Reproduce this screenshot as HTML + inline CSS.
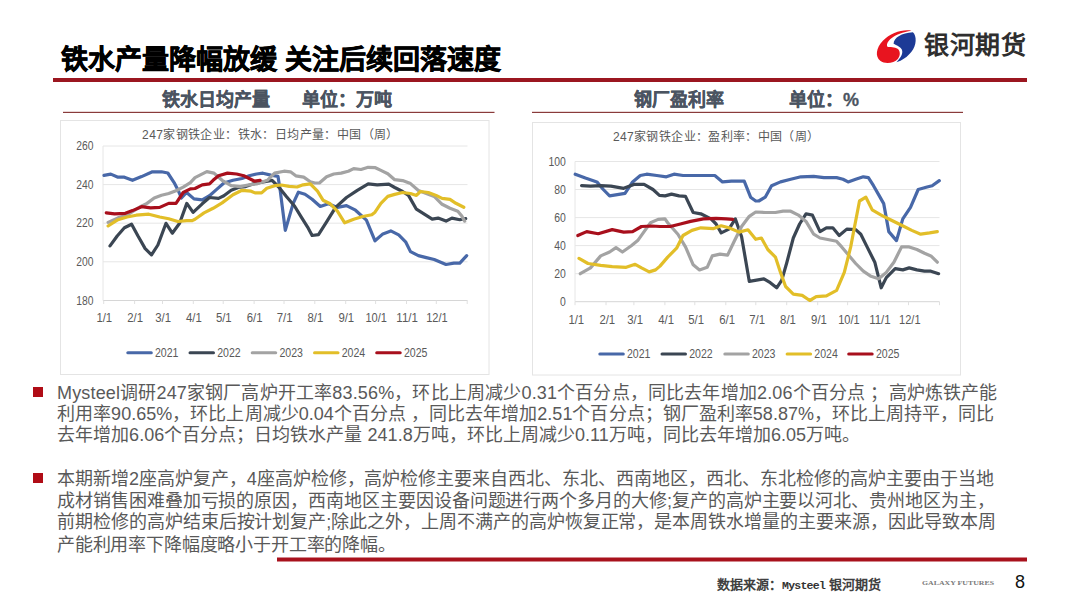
<!DOCTYPE html>
<html lang="zh-CN"><head><meta charset="utf-8">
<style>
html,body{margin:0;padding:0;background:#fff;}
body{width:1080px;height:608px;position:relative;overflow:hidden;font-family:"Liberation Sans",sans-serif;}
svg{position:absolute;left:0;top:0;}
.ax{font-family:"Liberation Sans",sans-serif;font-size:12px;fill:#595959;}
.ct{font-family:"Liberation Sans",sans-serif;font-size:12px;fill:#595959;}
.t{position:absolute;white-space:nowrap;}
.title{left:61px;top:38px;font-size:27px;font-weight:bold;color:#000;-webkit-text-stroke:0.6px #000;}
.logo{left:924px;top:25px;font-size:25px;font-weight:bold;color:#2e2e2e;letter-spacing:0.6px;}
.hd{font-size:18px;font-weight:bold;color:#4b5461;-webkit-text-stroke:0.3px #4b5461;}
.p{position:absolute;left:57px;font-size:18px;line-height:21.3px;color:#595959;white-space:nowrap;}
.foot{left:717px;top:574px;font-size:13px;font-weight:bold;color:#404040;}
.mono{font-family:"Liberation Mono",monospace;font-size:11.5px;font-weight:bold;letter-spacing:-0.75px;color:#333;}
.gf{left:922px;top:578px;font-size:8px;color:#666;font-family:"Liberation Serif",serif;letter-spacing:-0.6px;}
.pg{left:1015px;top:572px;font-size:18px;color:#111;}
</style></head><body>
<svg width="1080" height="608" viewBox="0 0 1080 608">
<rect x="60.5" y="120.5" width="428.5" height="254" fill="#fff" stroke="#e4e4e4" stroke-width="1"/>
<rect x="532.5" y="122.5" width="428" height="252.5" fill="#fff" stroke="#e4e4e4" stroke-width="1"/>
<line x1="103" y1="146" x2="467.5" y2="146" stroke="#e6e6e6" stroke-width="1"/>
<line x1="103" y1="184.6" x2="467.5" y2="184.6" stroke="#e6e6e6" stroke-width="1"/>
<line x1="103" y1="223.2" x2="467.5" y2="223.2" stroke="#e6e6e6" stroke-width="1"/>
<line x1="103" y1="261.8" x2="467.5" y2="261.8" stroke="#e6e6e6" stroke-width="1"/>
<line x1="103" y1="300.5" x2="467.5" y2="300.5" stroke="#d6d6d6" stroke-width="1"/>
<line x1="103" y1="146" x2="103" y2="300.5" stroke="#e6e6e6" stroke-width="1"/>
<line x1="103.7" y1="300.5" x2="103.7" y2="304" stroke="#e0e0e0" stroke-width="1"/>
<line x1="134.6" y1="300.5" x2="134.6" y2="304" stroke="#e0e0e0" stroke-width="1"/>
<line x1="162.5" y1="300.5" x2="162.5" y2="304" stroke="#e0e0e0" stroke-width="1"/>
<line x1="193.3" y1="300.5" x2="193.3" y2="304" stroke="#e0e0e0" stroke-width="1"/>
<line x1="223.2" y1="300.5" x2="223.2" y2="304" stroke="#e0e0e0" stroke-width="1"/>
<line x1="254.1" y1="300.5" x2="254.1" y2="304" stroke="#e0e0e0" stroke-width="1"/>
<line x1="284.0" y1="300.5" x2="284.0" y2="304" stroke="#e0e0e0" stroke-width="1"/>
<line x1="314.8" y1="300.5" x2="314.8" y2="304" stroke="#e0e0e0" stroke-width="1"/>
<line x1="345.7" y1="300.5" x2="345.7" y2="304" stroke="#e0e0e0" stroke-width="1"/>
<line x1="375.6" y1="300.5" x2="375.6" y2="304" stroke="#e0e0e0" stroke-width="1"/>
<line x1="406.5" y1="300.5" x2="406.5" y2="304" stroke="#e0e0e0" stroke-width="1"/>
<line x1="436.3" y1="300.5" x2="436.3" y2="304" stroke="#e0e0e0" stroke-width="1"/>
<line x1="467.2" y1="300.5" x2="467.2" y2="304" stroke="#e0e0e0" stroke-width="1"/>
<text x="93.5" y="150.0" text-anchor="end" class="ax" textLength="17.2" lengthAdjust="spacingAndGlyphs">260</text>
<text x="93.5" y="188.6" text-anchor="end" class="ax" textLength="17.2" lengthAdjust="spacingAndGlyphs">240</text>
<text x="93.5" y="227.2" text-anchor="end" class="ax" textLength="17.2" lengthAdjust="spacingAndGlyphs">220</text>
<text x="93.5" y="265.8" text-anchor="end" class="ax" textLength="17.2" lengthAdjust="spacingAndGlyphs">200</text>
<text x="93.5" y="304.5" text-anchor="end" class="ax" textLength="17.2" lengthAdjust="spacingAndGlyphs">180</text>
<text x="104.3" y="322" text-anchor="middle" class="ax" textLength="15.8" lengthAdjust="spacingAndGlyphs">1/1</text>
<text x="135.2" y="322" text-anchor="middle" class="ax" textLength="15.8" lengthAdjust="spacingAndGlyphs">2/1</text>
<text x="163.1" y="322" text-anchor="middle" class="ax" textLength="15.8" lengthAdjust="spacingAndGlyphs">3/1</text>
<text x="193.9" y="322" text-anchor="middle" class="ax" textLength="15.8" lengthAdjust="spacingAndGlyphs">4/1</text>
<text x="223.8" y="322" text-anchor="middle" class="ax" textLength="15.8" lengthAdjust="spacingAndGlyphs">5/1</text>
<text x="254.7" y="322" text-anchor="middle" class="ax" textLength="15.8" lengthAdjust="spacingAndGlyphs">6/1</text>
<text x="284.6" y="322" text-anchor="middle" class="ax" textLength="15.8" lengthAdjust="spacingAndGlyphs">7/1</text>
<text x="315.4" y="322" text-anchor="middle" class="ax" textLength="15.8" lengthAdjust="spacingAndGlyphs">8/1</text>
<text x="346.3" y="322" text-anchor="middle" class="ax" textLength="15.8" lengthAdjust="spacingAndGlyphs">9/1</text>
<text x="376.2" y="322" text-anchor="middle" class="ax" textLength="21.5" lengthAdjust="spacingAndGlyphs">10/1</text>
<text x="407.1" y="322" text-anchor="middle" class="ax" textLength="21.5" lengthAdjust="spacingAndGlyphs">11/1</text>
<text x="436.9" y="322" text-anchor="middle" class="ax" textLength="21.5" lengthAdjust="spacingAndGlyphs">12/1</text>
<text x="270.5" y="139" text-anchor="middle" class="ct" style="letter-spacing:0.4px">247家钢铁企业：铁水：日均产量：中国（周）</text>
<line x1="127.8" y1="352.8" x2="151.3" y2="352.8" stroke="#4868a8" stroke-width="3" stroke-linecap="round"/>
<text x="155.0" y="357" class="ax" textLength="23.5" lengthAdjust="spacingAndGlyphs">2021</text>
<line x1="190.0" y1="352.8" x2="213.5" y2="352.8" stroke="#3b4653" stroke-width="3" stroke-linecap="round"/>
<text x="217.2" y="357" class="ax" textLength="23.5" lengthAdjust="spacingAndGlyphs">2022</text>
<line x1="252.2" y1="352.8" x2="275.7" y2="352.8" stroke="#a3a3a3" stroke-width="3" stroke-linecap="round"/>
<text x="279.4" y="357" class="ax" textLength="23.5" lengthAdjust="spacingAndGlyphs">2023</text>
<line x1="314.5" y1="352.8" x2="338" y2="352.8" stroke="#e2be28" stroke-width="3" stroke-linecap="round"/>
<text x="341.7" y="357" class="ax" textLength="23.5" lengthAdjust="spacingAndGlyphs">2024</text>
<line x1="376.7" y1="352.8" x2="400.2" y2="352.8" stroke="#a80f1c" stroke-width="3" stroke-linecap="round"/>
<text x="403.9" y="357" class="ax" textLength="23.5" lengthAdjust="spacingAndGlyphs">2025</text>
<polyline points="104.0,175.4 110.8,174.1 118.0,177.2 124.4,177.2 132.5,180.3 141.6,176.6 152.4,171.8 161.5,171.8 167.8,173.0 174.1,182.6 178.7,191.6 181.4,198.0 186.6,192.5 194.0,198.9 202.2,199.8 209.5,195.7 216.7,189.4 223.9,183.0 233.0,180.3 242.0,178.5 249.2,175.8 256.5,174.0 262.9,173.2 270.8,175.1 278.0,176.4 280.0,188.9 285.3,230.4 293.2,203.4 298.4,192.2 305.0,194.2 312.1,199.3 320.3,206.5 328.4,203.8 337.4,207.4 346.5,205.6 355.5,210.2 366.4,220.1 375.0,240.8 382.9,233.9 390.8,230.9 398.7,234.9 405.6,241.8 410.5,251.6 418.4,255.6 426.3,257.6 434.2,259.5 446.0,264.5 453.9,263.1 459.8,263.1 466.7,255.6" fill="none" stroke="#4868a8" stroke-width="3.2" stroke-linejoin="round" stroke-linecap="round"/>
<polyline points="110.0,245.9 117.2,236.0 124.4,227.8 131.6,224.2 138.0,236.0 145.2,248.6 151.5,254.9 157.9,245.0 166.0,223.3 172.3,233.2 179.6,223.3 186.8,203.4 193.1,212.4 202.2,203.8 209.5,197.5 218.5,198.4 223.9,195.7 231.2,190.3 238.4,187.5 245.6,186.6 252.9,183.9 261.9,182.1 272.1,180.4 278.7,187.0 286.6,196.8 294.5,206.0 301.0,216.6 307.6,227.1 312.1,235.5 318.5,234.6 326.6,221.9 335.6,207.4 346.5,197.5 357.3,190.3 368.2,183.9 377.2,184.8 388.8,184.2 394.7,187.5 402.6,191.5 408.5,195.4 416.4,209.2 424.3,214.2 432.2,219.1 438.1,218.1 446.0,221.1 451.9,218.1 459.8,219.7 465.7,218.5" fill="none" stroke="#3b4653" stroke-width="3.2" stroke-linejoin="round" stroke-linecap="round"/>
<polyline points="108.1,222.4 118.0,217.9 127.0,215.2 139.8,207.0 147.0,203.4 154.2,198.0 161.5,195.3 168.7,193.5 176.0,190.7 183.2,187.1 190.4,182.6 195.0,177.6 200.4,174.9 206.8,171.6 214.0,173.1 222.1,180.3 231.2,185.7 240.2,186.6 249.2,184.8 256.5,183.9 267.3,180.3 274.6,173.1 284.0,171.2 290.5,171.8 295.8,175.8 303.7,177.1 310.3,181.7 314.8,183.0 319.4,183.0 326.6,176.7 333.8,174.0 341.1,173.1 348.3,171.3 353.7,168.6 361.0,169.5 368.2,167.3 375.4,167.7 380.9,170.4 387.8,173.7 394.7,179.7 402.6,180.6 410.5,183.6 418.4,190.5 426.3,193.5 434.2,196.4 442.1,204.3 450.0,208.3 457.8,211.2 461.8,216.1 464.7,221.1" fill="none" stroke="#a3a3a3" stroke-width="3.2" stroke-linejoin="round" stroke-linecap="round"/>
<polyline points="108.1,226.0 118.0,219.7 127.1,217.0 136.2,215.2 148.8,214.2 159.7,217.0 168.7,218.8 177.8,221.5 186.8,220.6 192.2,220.6 195.0,219.2 204.0,212.9 213.1,208.3 222.1,202.9 233.0,194.8 242.0,190.3 251.1,191.2 255.0,192.9 261.6,192.9 266.8,188.3 274.7,185.7 281.3,185.0 289.2,186.3 297.1,187.0 303.1,184.8 310.3,183.9 317.5,191.2 323.0,200.2 330.2,203.8 337.4,211.1 344.7,222.8 353.7,219.2 362.8,216.5 371.8,214.7 375.0,212.2 380.9,203.3 387.8,196.4 394.7,194.4 402.6,192.5 410.5,193.5 416.4,195.4 420.4,191.5 428.3,192.5 436.1,195.4 442.1,198.4 450.0,199.4 455.9,203.3 463.8,207.3" fill="none" stroke="#e2be28" stroke-width="3.2" stroke-linejoin="round" stroke-linecap="round"/>
<polyline points="106.3,212.8 114.5,213.9 125.3,213.3 132.5,210.6 141.6,206.7 150.6,207.9 159.7,207.4 168.7,203.4 176.0,203.4 183.2,192.5 190.4,188.9 195.0,188.5 202.2,184.8 209.5,183.9 213.1,180.3 218.5,175.8 227.5,173.1 236.6,174.0 243.8,175.8 249.2,178.5 254.7,181.2 260.1,180.3" fill="none" stroke="#a80f1c" stroke-width="3.2" stroke-linejoin="round" stroke-linecap="round"/>
<line x1="575" y1="161.5" x2="939.5" y2="161.5" stroke="#e6e6e6" stroke-width="1"/>
<line x1="575" y1="189.5" x2="939.5" y2="189.5" stroke="#e6e6e6" stroke-width="1"/>
<line x1="575" y1="217.6" x2="939.5" y2="217.6" stroke="#e6e6e6" stroke-width="1"/>
<line x1="575" y1="245.6" x2="939.5" y2="245.6" stroke="#e6e6e6" stroke-width="1"/>
<line x1="575" y1="273.7" x2="939.5" y2="273.7" stroke="#e6e6e6" stroke-width="1"/>
<line x1="575" y1="301.7" x2="939.5" y2="301.7" stroke="#d6d6d6" stroke-width="1"/>
<line x1="575" y1="161.5" x2="575" y2="301.7" stroke="#e6e6e6" stroke-width="1"/>
<line x1="575.0" y1="301.7" x2="575.0" y2="305.2" stroke="#e0e0e0" stroke-width="1"/>
<line x1="606.0" y1="301.7" x2="606.0" y2="305.2" stroke="#e0e0e0" stroke-width="1"/>
<line x1="633.9" y1="301.7" x2="633.9" y2="305.2" stroke="#e0e0e0" stroke-width="1"/>
<line x1="664.9" y1="301.7" x2="664.9" y2="305.2" stroke="#e0e0e0" stroke-width="1"/>
<line x1="694.8" y1="301.7" x2="694.8" y2="305.2" stroke="#e0e0e0" stroke-width="1"/>
<line x1="725.8" y1="301.7" x2="725.8" y2="305.2" stroke="#e0e0e0" stroke-width="1"/>
<line x1="755.8" y1="301.7" x2="755.8" y2="305.2" stroke="#e0e0e0" stroke-width="1"/>
<line x1="786.7" y1="301.7" x2="786.7" y2="305.2" stroke="#e0e0e0" stroke-width="1"/>
<line x1="817.7" y1="301.7" x2="817.7" y2="305.2" stroke="#e0e0e0" stroke-width="1"/>
<line x1="847.6" y1="301.7" x2="847.6" y2="305.2" stroke="#e0e0e0" stroke-width="1"/>
<line x1="878.6" y1="301.7" x2="878.6" y2="305.2" stroke="#e0e0e0" stroke-width="1"/>
<line x1="908.5" y1="301.7" x2="908.5" y2="305.2" stroke="#e0e0e0" stroke-width="1"/>
<line x1="939.5" y1="301.7" x2="939.5" y2="305.2" stroke="#e0e0e0" stroke-width="1"/>
<text x="565.8" y="165.5" text-anchor="end" class="ax" textLength="17.4" lengthAdjust="spacingAndGlyphs">100</text>
<text x="565.8" y="193.5" text-anchor="end" class="ax" textLength="11.6" lengthAdjust="spacingAndGlyphs">80</text>
<text x="565.8" y="221.6" text-anchor="end" class="ax" textLength="11.6" lengthAdjust="spacingAndGlyphs">60</text>
<text x="565.8" y="249.6" text-anchor="end" class="ax" textLength="11.6" lengthAdjust="spacingAndGlyphs">40</text>
<text x="565.8" y="277.7" text-anchor="end" class="ax" textLength="11.6" lengthAdjust="spacingAndGlyphs">20</text>
<text x="565.8" y="305.7" text-anchor="end" class="ax" textLength="5.8" lengthAdjust="spacingAndGlyphs">0</text>
<text x="576.3" y="323.5" text-anchor="middle" class="ax" textLength="15.8" lengthAdjust="spacingAndGlyphs">1/1</text>
<text x="607.3" y="323.5" text-anchor="middle" class="ax" textLength="15.8" lengthAdjust="spacingAndGlyphs">2/1</text>
<text x="635.2" y="323.5" text-anchor="middle" class="ax" textLength="15.8" lengthAdjust="spacingAndGlyphs">3/1</text>
<text x="666.2" y="323.5" text-anchor="middle" class="ax" textLength="15.8" lengthAdjust="spacingAndGlyphs">4/1</text>
<text x="696.1" y="323.5" text-anchor="middle" class="ax" textLength="15.8" lengthAdjust="spacingAndGlyphs">5/1</text>
<text x="727.1" y="323.5" text-anchor="middle" class="ax" textLength="15.8" lengthAdjust="spacingAndGlyphs">6/1</text>
<text x="757.1" y="323.5" text-anchor="middle" class="ax" textLength="15.8" lengthAdjust="spacingAndGlyphs">7/1</text>
<text x="788.0" y="323.5" text-anchor="middle" class="ax" textLength="15.8" lengthAdjust="spacingAndGlyphs">8/1</text>
<text x="819.0" y="323.5" text-anchor="middle" class="ax" textLength="15.8" lengthAdjust="spacingAndGlyphs">9/1</text>
<text x="848.9" y="323.5" text-anchor="middle" class="ax" textLength="21.5" lengthAdjust="spacingAndGlyphs">10/1</text>
<text x="879.9" y="323.5" text-anchor="middle" class="ax" textLength="21.5" lengthAdjust="spacingAndGlyphs">11/1</text>
<text x="909.8" y="323.5" text-anchor="middle" class="ax" textLength="21.5" lengthAdjust="spacingAndGlyphs">12/1</text>
<text x="716.2" y="140.5" text-anchor="middle" class="ct" style="letter-spacing:0.35px">247家钢铁企业：盈利率：中国（周）</text>
<line x1="599.8" y1="354" x2="623.3" y2="354" stroke="#4868a8" stroke-width="3" stroke-linecap="round"/>
<text x="627.0" y="358.2" class="ax" textLength="23.5" lengthAdjust="spacingAndGlyphs">2021</text>
<line x1="662.0" y1="354" x2="685.5" y2="354" stroke="#3b4653" stroke-width="3" stroke-linecap="round"/>
<text x="689.2" y="358.2" class="ax" textLength="23.5" lengthAdjust="spacingAndGlyphs">2022</text>
<line x1="724.8" y1="354" x2="748.3" y2="354" stroke="#a3a3a3" stroke-width="3" stroke-linecap="round"/>
<text x="752.0" y="358.2" class="ax" textLength="23.5" lengthAdjust="spacingAndGlyphs">2023</text>
<line x1="787.1" y1="354" x2="810.6" y2="354" stroke="#e2be28" stroke-width="3" stroke-linecap="round"/>
<text x="814.3000000000001" y="358.2" class="ax" textLength="23.5" lengthAdjust="spacingAndGlyphs">2024</text>
<line x1="848.7" y1="354" x2="872.2" y2="354" stroke="#a80f1c" stroke-width="3" stroke-linecap="round"/>
<text x="875.9000000000001" y="358.2" class="ax" textLength="23.5" lengthAdjust="spacingAndGlyphs">2025</text>
<polyline points="575.2,174.2 585.4,178.1 596.9,181.9 603.3,189.5 609.6,195.9 625.0,193.4 632.6,181.9 640.3,175.5 646.6,174.2 656.8,175.5 666.4,176.8 674.0,174.2 683.0,175.5 698.3,175.5 714.8,175.5 722.5,181.9 731.4,181.1 744.2,181.1 750.6,197.2 755.7,201.0 758.8,201.0 765.2,197.2 771.6,185.7 780.5,181.9 790.7,179.3 800.9,176.8 813.7,176.3 823.9,177.6 836.6,177.6 843.0,179.3 848.1,181.9 855.7,179.3 863.3,176.8 868.4,177.6 873.5,185.7 878.6,194.6 883.7,203.6 888.8,231.6 896.5,240.6 902.8,218.9 910.5,207.4 918.2,189.5 927.1,187.0 932.2,185.7 939.3,180.6" fill="none" stroke="#4868a8" stroke-width="3.2" stroke-linejoin="round" stroke-linecap="round"/>
<polyline points="581.6,185.7 590.5,186.2 600.7,185.7 610.9,186.2 623.7,188.3 633.9,184.4 644.1,184.4 653.0,189.5 659.4,195.4 665.1,195.9 671.5,194.1 679.1,195.9 685.5,196.4 693.2,212.5 700.8,213.8 711.0,218.9 716.1,224.0 721.2,232.9 728.9,229.1 735.3,218.9 741.6,236.7 749.3,281.4 763.9,278.8 770.3,282.7 776.7,287.8 781.8,280.1 786.9,262.2 793.3,238.0 799.6,224.0 806.0,213.8 812.4,215.1 820.0,231.6 826.4,227.8 832.8,227.8 839.2,235.5 846.8,229.1 855.7,229.6 860.8,234.2 867.1,246.9 874.8,262.2 881.2,287.8 886.3,277.6 895.2,268.6 902.8,269.9 909.2,267.9 916.9,269.9 924.5,271.2 930.9,271.2 938.6,273.7" fill="none" stroke="#3b4653" stroke-width="3.2" stroke-linejoin="round" stroke-linecap="round"/>
<polyline points="580.3,273.7 590.5,267.9 600.7,255.9 609.6,252.0 616.0,247.7 622.4,252.0 631.3,245.7 637.7,240.6 644.1,231.6 650.5,222.7 658.1,219.4 665.0,218.9 667.7,222.7 677.9,234.2 685.5,246.9 693.2,264.8 699.5,269.9 707.2,267.3 712.3,255.9 720.0,254.1 727.6,255.1 734.0,241.8 741.6,226.5 749.3,216.3 755.7,212.0 765.2,212.5 775.4,212.5 783.1,211.2 790.7,211.2 798.4,215.1 806.0,221.4 813.7,234.2 820.0,238.0 829.0,239.8 836.6,241.3 841.7,246.9 848.1,254.6 855.7,263.5 863.3,271.2 871.0,276.3 878.6,278.8 886.3,272.4 893.9,262.2 901.6,246.9 909.2,246.9 916.9,249.5 924.5,253.3 930.9,255.9 937.3,262.2" fill="none" stroke="#a3a3a3" stroke-width="3.2" stroke-linejoin="round" stroke-linecap="round"/>
<polyline points="579.0,258.4 588.0,263.5 600.7,265.3 612.2,266.6 626.2,267.3 635.2,264.3 641.5,267.9 649.2,271.9 655.6,269.9 660.0,266.1 667.7,257.1 676.6,248.2 683.0,235.5 691.9,230.4 700.8,227.8 713.6,228.6 721.2,225.8 728.9,227.8 739.1,232.1 748.0,229.8 755.7,239.3 761.4,238.0 767.8,249.5 775.4,257.1 780.5,272.4 785.6,286.5 793.3,294.1 802.2,295.4 809.8,300.5 816.2,296.7 826.4,295.9 836.6,290.3 844.3,272.4 850.7,246.9 853.1,234.2 859.5,201.0 865.9,197.2 872.2,209.9 881.2,215.1 891.4,220.2 901.6,225.3 911.8,230.4 920.7,234.2 929.6,232.9 937.3,231.6" fill="none" stroke="#e2be28" stroke-width="3.2" stroke-linejoin="round" stroke-linecap="round"/>
<polyline points="577.8,235.5 586.7,231.6 598.2,233.7 612.2,229.6 623.7,232.1 632.6,231.6 641.5,226.5 651.7,226.0 660.0,226.5 670.2,226.5 680.4,224.0 690.6,221.4 703.4,218.9 716.1,218.4 726.3,218.9 732.7,219.4" fill="none" stroke="#a80f1c" stroke-width="3.2" stroke-linejoin="round" stroke-linecap="round"/>
<rect x="53" y="78" width="974" height="4" fill="#9b1620"/>
<rect x="63" y="111.8" width="431.5" height="1.2" fill="#8a3b3b"/>
<rect x="532" y="111.8" width="431" height="1.2" fill="#8a3b3b"/>
<rect x="277" y="557.5" width="750" height="4" fill="#a8111c"/>
<rect x="33" y="387" width="10" height="10" fill="#b00c16"/>
<text x="922" y="584.7" textLength="72" lengthAdjust="spacingAndGlyphs" style="font-family:Liberation Serif,serif;font-size:7px;font-weight:bold;fill:#7a7a7a;">GALAXY FUTURES</text>
<rect x="33" y="473" width="10" height="10" fill="#b00c16"/>
<g transform="translate(872,26) scale(0.065789)">
<path d="M 600,72 C 470,45 280,105 165,225 C 60,335 45,465 125,528 C 200,585 335,565 392,500 C 432,455 430,392 402,356 C 372,322 300,318 240,318 C 215,298 228,248 280,198 C 360,128 470,92 600,72 Z" fill="#e8141f"/>
<path d="M 622,95 C 682,150 680,292 600,392 C 540,470 455,528 372,550 C 438,482 475,420 455,362 C 435,310 372,292 328,268 C 332,178 450,106 622,95 Z" fill="#1d3a96"/>
</g>
</svg>
<div class="t title">铁水产量降幅放缓 关注后续回落速度</div>
<div class="t logo">银河期货</div>
<div class="t hd" style="left:162px;top:85px;">铁水日均产量</div>
<div class="t hd" style="left:302px;top:85px;">单位：万吨</div>
<div class="t hd" style="left:634px;top:85px;">钢厂盈利率</div>
<div class="t hd" style="left:789px;top:85px;">单位：%</div>
<div class="p" style="top:382.7px;letter-spacing:0.163px">Mysteel调研247家钢厂高炉开工率83.56%，环比上周减少0.31个百分点，同比去年增加2.06个百分点 ；高炉炼铁产能</div>
<div class="p" style="top:404.3px;letter-spacing:0.037px">利用率90.65%，环比上周减少0.04个百分点 ，同比去年增加2.51个百分点；钢厂盈利率58.87%，环比上周持平，同比</div>
<div class="p" style="top:425.4px;letter-spacing:0.025px">去年增加6.06个百分点；日均铁水产量 241.8万吨，环比上周减少0.11万吨，同比去年增加6.05万吨。</div>
<div class="p" style="top:468.5px;letter-spacing:-0.029px">本期新增2座高炉复产，4座高炉检修，高炉检修主要来自西北、东北、西南地区，西北、东北检修的高炉主要由于当地</div>
<div class="p" style="top:491.3px;letter-spacing:-0.062px">成材销售困难叠加亏损的原因，西南地区主要因设备问题进行两个多月的大修;复产的高炉主要以河北、贵州地区为主，</div>
<div class="p" style="top:512.0px;letter-spacing:-0.048px">前期检修的高炉结束后按计划复产;除此之外，上周不满产的高炉恢复正常，是本周铁水增量的主要来源，因此导致本周</div>
<div class="p" style="top:535.0px;letter-spacing:-0.178px">产能利用率下降幅度略小于开工率的降幅。</div>
<div class="t foot">数据来源：<span class="mono">Mysteel</span> 银河期货</div>

<div class="t pg">8</div>
</body></html>
